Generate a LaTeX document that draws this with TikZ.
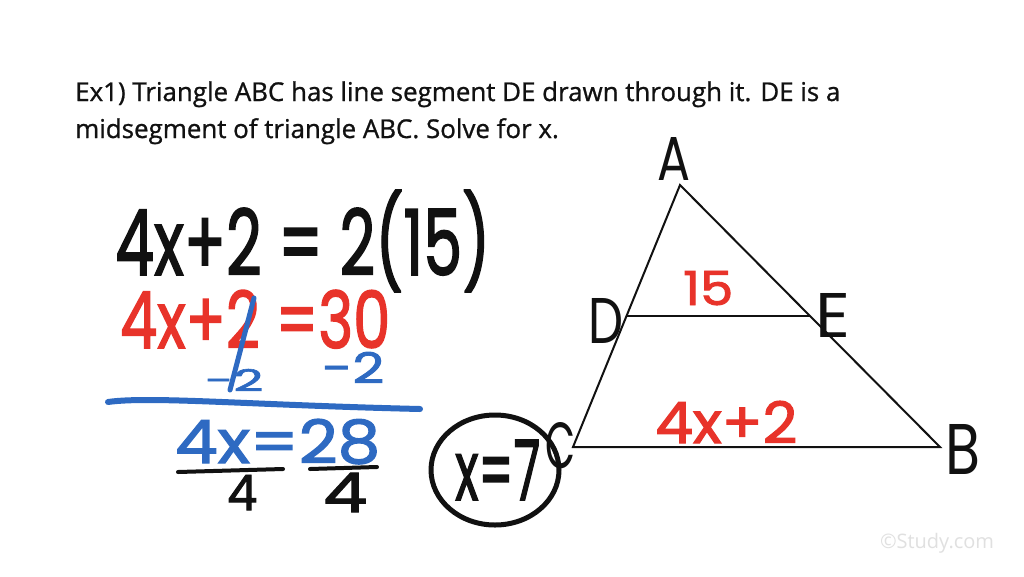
\documentclass[tikz,border=0pt]{standalone}
\usepackage{fontspec}
\setmainfont{Open Sans}
\newfontfamily\titlefont{Open Sans}[FakeBold=0.9]
\newfontfamily\hand{Poppins}
\newfontfamily\handb{Poppins}[FakeBold=2]
\definecolor{penred}{HTML}{E8332A}
\definecolor{penblue}{HTML}{2E6AC2}
\definecolor{ink}{HTML}{111111}
\newcommand{\hw}[3]{\resizebox{#1pt}{#2pt}{\hand #3}}
\newcommand{\hwb}[3]{\resizebox{#1pt}{#2pt}{\handb #3}}
\begin{document}
\begin{tikzpicture}[x=1pt,y=-1pt,
  hwnode/.style={inner sep=0pt, anchor=base west},
  triline/.style={line width=2pt, draw=ink},
  penstroke/.style={line width=5pt, line cap=round},
  titletext/.style={inner sep=0pt, anchor=base west, text=ink, font=\titlefont\fontsize{25.9}{30}\selectfont}]
\useasboundingbox (0,0) rectangle (1024,576);
\fill[white] (0,0) rectangle (1024,576);

% title
\node[titletext] (t1) at (75,101) {Ex1) Triangle ABC has line segment DE drawn through it. DE is a};
\node[titletext] (t2) at (75,138) {midsegment of triangle ABC. Solve for x.};

% black equation
\node[hwnode, text=ink] (e1) at (115,275) {\hwb{375}{85}{4x+2 = 2(15)}};
% red equation
\node[hwnode, text=penred] (e2) at (120,348) {\hwb{270}{58}{4x+2 =30}};
% blue subtraction
\node[hwnode, text=penblue] (m1) at (205,391) {\hwb{58}{22}{-2}};
\node[hwnode, text=penblue] (m2) at (322,383) {\hwb{62}{31}{-2}};
\coordinate (s1) at (254,298);
\coordinate (s2) at (230,390);
\draw[penstroke, penblue] (s1) -- (s2);
% blue rule
\coordinate (r1) at (108,402);
\coordinate (r2) at (420,409);
\draw[line width=6pt, penblue, line cap=round] (r1) .. controls (150,396) and (250,405) .. (r2);
% blue result
\node[hwnode, text=penblue] (e3) at (175,463) {\hwb{205}{44}{4x=28}};
% division
\coordinate (d1) at (178,472); \coordinate (d2) at (283,469);
\coordinate (d3) at (310,469); \coordinate (d4) at (377,467);
\draw[penstroke, ink, line width=4pt] (d1) -- (d2);
\draw[penstroke, ink, line width=4pt] (d3) -- (d4);
\node[hwnode, text=ink] (q1) at (227,510) {\hwb{30}{35}{4}};
\node[hwnode, text=ink] (q2) at (323,512) {\hwb{44}{39}{4}};

% answer
\node[hwnode, text=ink] (ans) at (455,500) {\hwb{85}{60}{x=7}};
\draw[ink, line width=5pt] (495,470) ellipse [x radius=64, y radius=55];

% triangle
\coordinate (A) at (680,185);
\coordinate (B) at (940,447);
\coordinate (C) at (573,447);
\coordinate (D) at (626.5,316);
\coordinate (E) at (810,316);
\draw[triline] (A) -- (B) -- (C) -- cycle;
\draw[triline] (D) -- (E);

\node[hwnode, text=ink] (lA) at (657,180) {\hw{33}{43}{A}};
\node[hwnode, text=ink] (lD) at (588,343) {\hw{35}{45}{D}};
\node[hwnode, text=ink] (lE) at (815,337) {\hw{35}{44}{E}};
\node[hwnode, text=ink] (lC) at (545,468) {\hw{30}{46}{C}};
\node[hwnode, text=ink] (lB) at (945,474) {\hw{35}{50}{B}};

\node[hwnode, text=penred] (l15) at (683,305) {\hwb{50}{34}{15}};
\node[hwnode, text=penred] (l4x) at (655,443) {\hwb{142}{42}{4x+2}};

% watermark
\node[inner sep=0pt, text=black!12, font=\fontsize{20}{20}\selectfont] (wm) at (937,543) {\textcopyright Study.com};
\end{tikzpicture}
\end{document}
